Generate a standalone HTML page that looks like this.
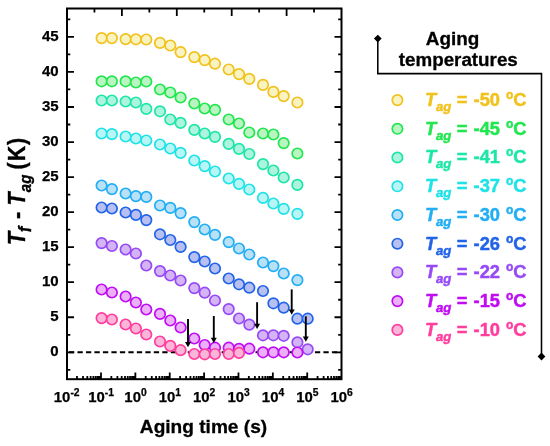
<!DOCTYPE html>
<html><head><meta charset="utf-8"><title>Aging</title><style>html,body{margin:0;padding:0;background:#fff}svg{display:block}</style></head><body>
<svg width="550" height="446" viewBox="0 0 550 446" font-family="'Liberation Sans', sans-serif" font-weight="bold">
<rect width="550" height="446" fill="#fff"/>
<line x1="69.0" y1="352.3" x2="341.5" y2="352.3" stroke="#000" stroke-width="1.9" stroke-dasharray="5.3 3.18"/>
<g stroke="#f1c21c" fill="#f9f3c2" stroke-width="1.7">
<circle cx="101.6" cy="38.1" r="5.25"/>
<circle cx="111.9" cy="38.1" r="5.25"/>
<circle cx="125.6" cy="39.1" r="5.25"/>
<circle cx="135.9" cy="39.3" r="5.25"/>
<circle cx="146.3" cy="39.5" r="5.25"/>
<circle cx="160.0" cy="42.9" r="5.25"/>
<circle cx="170.3" cy="45.5" r="5.25"/>
<circle cx="180.6" cy="52.1" r="5.25"/>
<circle cx="194.3" cy="57.1" r="5.25"/>
<circle cx="204.7" cy="60.1" r="5.25"/>
<circle cx="215.0" cy="63.7" r="5.25"/>
<circle cx="228.7" cy="69.5" r="5.25"/>
<circle cx="239.0" cy="74.1" r="5.25"/>
<circle cx="249.3" cy="78.9" r="5.25"/>
<circle cx="263.0" cy="84.9" r="5.25"/>
<circle cx="273.4" cy="91.9" r="5.25"/>
<circle cx="283.7" cy="96.1" r="5.25"/>
<circle cx="297.4" cy="102.5" r="5.25"/>
</g>
<g stroke="#22e650" fill="#b8f5c0" stroke-width="1.7">
<circle cx="101.6" cy="81.3" r="5.25"/>
<circle cx="111.9" cy="81.3" r="5.25"/>
<circle cx="125.6" cy="81.3" r="5.25"/>
<circle cx="135.9" cy="82.5" r="5.25"/>
<circle cx="146.3" cy="81.5" r="5.25"/>
<circle cx="160.0" cy="89.5" r="5.25"/>
<circle cx="170.3" cy="92.5" r="5.25"/>
<circle cx="180.6" cy="97.5" r="5.25"/>
<circle cx="194.3" cy="103.5" r="5.25"/>
<circle cx="204.7" cy="108.5" r="5.25"/>
<circle cx="215.0" cy="109.9" r="5.25"/>
<circle cx="228.7" cy="119.5" r="5.25"/>
<circle cx="239.0" cy="123.5" r="5.25"/>
<circle cx="249.3" cy="132.5" r="5.25"/>
<circle cx="263.0" cy="133.5" r="5.25"/>
<circle cx="273.4" cy="134.5" r="5.25"/>
<circle cx="283.7" cy="143.1" r="5.25"/>
<circle cx="297.4" cy="153.5" r="5.25"/>
</g>
<g stroke="#1ee6a8" fill="#acf4dd" stroke-width="1.7">
<circle cx="101.6" cy="100.5" r="5.25"/>
<circle cx="111.9" cy="100.5" r="5.25"/>
<circle cx="125.6" cy="101.5" r="5.25"/>
<circle cx="135.9" cy="102.5" r="5.25"/>
<circle cx="146.3" cy="108.9" r="5.25"/>
<circle cx="160.0" cy="111.3" r="5.25"/>
<circle cx="170.3" cy="119.5" r="5.25"/>
<circle cx="180.6" cy="122.9" r="5.25"/>
<circle cx="194.3" cy="129.9" r="5.25"/>
<circle cx="204.7" cy="133.5" r="5.25"/>
<circle cx="215.0" cy="136.9" r="5.25"/>
<circle cx="228.7" cy="143.9" r="5.25"/>
<circle cx="239.0" cy="148.9" r="5.25"/>
<circle cx="249.3" cy="154.0" r="5.25"/>
<circle cx="263.0" cy="164.1" r="5.25"/>
<circle cx="273.4" cy="170.5" r="5.25"/>
<circle cx="283.7" cy="177.5" r="5.25"/>
<circle cx="297.4" cy="184.9" r="5.25"/>
</g>
<g stroke="#1fe2e6" fill="#b8f6f6" stroke-width="1.7">
<circle cx="101.6" cy="133.5" r="5.25"/>
<circle cx="111.9" cy="134.1" r="5.25"/>
<circle cx="125.6" cy="136.5" r="5.25"/>
<circle cx="135.9" cy="138.5" r="5.25"/>
<circle cx="146.3" cy="140.5" r="5.25"/>
<circle cx="160.0" cy="144.5" r="5.25"/>
<circle cx="170.3" cy="148.5" r="5.25"/>
<circle cx="180.6" cy="152.9" r="5.25"/>
<circle cx="194.3" cy="160.5" r="5.25"/>
<circle cx="204.7" cy="166.1" r="5.25"/>
<circle cx="215.0" cy="171.5" r="5.25"/>
<circle cx="228.7" cy="178.5" r="5.25"/>
<circle cx="239.0" cy="183.9" r="5.25"/>
<circle cx="249.3" cy="189.5" r="5.25"/>
<circle cx="263.0" cy="197.9" r="5.25"/>
<circle cx="273.4" cy="203.5" r="5.25"/>
<circle cx="283.7" cy="208.9" r="5.25"/>
<circle cx="297.4" cy="213.9" r="5.25"/>
</g>
<g stroke="#22aef4" fill="#b8e1f7" stroke-width="1.7">
<circle cx="101.6" cy="185.5" r="5.25"/>
<circle cx="111.9" cy="189.1" r="5.25"/>
<circle cx="125.6" cy="193.5" r="5.25"/>
<circle cx="135.9" cy="196.1" r="5.25"/>
<circle cx="146.3" cy="196.9" r="5.25"/>
<circle cx="160.0" cy="205.5" r="5.25"/>
<circle cx="170.3" cy="207.9" r="5.25"/>
<circle cx="180.6" cy="213.1" r="5.25"/>
<circle cx="194.3" cy="222.1" r="5.25"/>
<circle cx="204.7" cy="229.5" r="5.25"/>
<circle cx="215.0" cy="234.9" r="5.25"/>
<circle cx="228.7" cy="242.1" r="5.25"/>
<circle cx="239.0" cy="248.5" r="5.25"/>
<circle cx="249.3" cy="254.5" r="5.25"/>
<circle cx="263.0" cy="262.5" r="5.25"/>
<circle cx="273.4" cy="266.1" r="5.25"/>
<circle cx="283.7" cy="273.5" r="5.25"/>
<circle cx="297.4" cy="280.1" r="5.25"/>
</g>
<g stroke="#2264e8" fill="#b8c0f2" stroke-width="1.7">
<circle cx="101.6" cy="207.5" r="5.25"/>
<circle cx="111.9" cy="208.5" r="5.25"/>
<circle cx="125.6" cy="212.5" r="5.25"/>
<circle cx="135.9" cy="214.9" r="5.25"/>
<circle cx="146.3" cy="220.1" r="5.25"/>
<circle cx="160.0" cy="234.3" r="5.25"/>
<circle cx="170.3" cy="240.0" r="5.25"/>
<circle cx="180.6" cy="246.9" r="5.25"/>
<circle cx="194.3" cy="257.1" r="5.25"/>
<circle cx="204.7" cy="261.5" r="5.25"/>
<circle cx="215.0" cy="268.5" r="5.25"/>
<circle cx="228.7" cy="278.5" r="5.25"/>
<circle cx="239.0" cy="284.3" r="5.25"/>
<circle cx="249.3" cy="287.7" r="5.25"/>
<circle cx="263.0" cy="291.0" r="5.25"/>
<circle cx="273.4" cy="303.3" r="5.25"/>
<circle cx="283.7" cy="307.7" r="5.25"/>
<circle cx="297.4" cy="318.7" r="5.25"/>
<circle cx="307.7" cy="318.7" r="5.25"/>
</g>
<g stroke="#964af6" fill="#d5b4f5" stroke-width="1.7">
<circle cx="101.6" cy="243.1" r="5.25"/>
<circle cx="111.9" cy="246.0" r="5.25"/>
<circle cx="125.6" cy="249.5" r="5.25"/>
<circle cx="135.9" cy="253.5" r="5.25"/>
<circle cx="146.3" cy="265.5" r="5.25"/>
<circle cx="160.0" cy="271.1" r="5.25"/>
<circle cx="170.3" cy="275.5" r="5.25"/>
<circle cx="180.6" cy="280.5" r="5.25"/>
<circle cx="194.3" cy="288.1" r="5.25"/>
<circle cx="204.7" cy="292.7" r="5.25"/>
<circle cx="215.0" cy="300.5" r="5.25"/>
<circle cx="228.7" cy="309.1" r="5.25"/>
<circle cx="239.0" cy="318.5" r="5.25"/>
<circle cx="249.3" cy="324.6" r="5.25"/>
<circle cx="263.0" cy="335.3" r="5.25"/>
<circle cx="273.4" cy="335.3" r="5.25"/>
<circle cx="283.7" cy="335.8" r="5.25"/>
<circle cx="297.4" cy="342.3" r="5.25"/>
<circle cx="307.7" cy="349.3" r="5.25"/>
</g>
<g stroke="#c00cf4" fill="#ebb0f7" stroke-width="1.7">
<circle cx="101.6" cy="289.5" r="5.25"/>
<circle cx="111.9" cy="292.5" r="5.25"/>
<circle cx="125.6" cy="296.5" r="5.25"/>
<circle cx="135.9" cy="302.5" r="5.25"/>
<circle cx="146.3" cy="309.5" r="5.25"/>
<circle cx="160.0" cy="313.9" r="5.25"/>
<circle cx="170.3" cy="320.5" r="5.25"/>
<circle cx="180.6" cy="327.5" r="5.25"/>
<circle cx="194.3" cy="338.5" r="5.25"/>
<circle cx="204.7" cy="345.0" r="5.25"/>
<circle cx="215.0" cy="347.7" r="5.25"/>
<circle cx="228.7" cy="347.7" r="5.25"/>
<circle cx="239.0" cy="348.8" r="5.25"/>
<circle cx="249.3" cy="348.7" r="5.25"/>
<circle cx="263.0" cy="352.3" r="5.25"/>
<circle cx="273.4" cy="352.3" r="5.25"/>
<circle cx="283.7" cy="352.3" r="5.25"/>
<circle cx="297.4" cy="352.5" r="5.25"/>
</g>
<g stroke="#ff3d9e" fill="#fbb5d8" stroke-width="1.7">
<circle cx="101.6" cy="318.1" r="5.25"/>
<circle cx="111.9" cy="319.5" r="5.25"/>
<circle cx="125.6" cy="324.5" r="5.25"/>
<circle cx="135.9" cy="328.5" r="5.25"/>
<circle cx="146.3" cy="334.5" r="5.25"/>
<circle cx="160.0" cy="341.5" r="5.25"/>
<circle cx="170.3" cy="345.9" r="5.25"/>
<circle cx="180.6" cy="350.2" r="5.25"/>
<circle cx="194.3" cy="354.0" r="5.25"/>
<circle cx="204.7" cy="354.3" r="5.25"/>
<circle cx="215.0" cy="354.0" r="5.25"/>
<circle cx="228.7" cy="354.0" r="5.25"/>
<circle cx="239.0" cy="352.9" r="5.25"/>
</g>
<line x1="188.0" y1="319" x2="188.0" y2="343.2" stroke="#000" stroke-width="1.9"/>
<path d="M185.0 341.9L191.0 341.9L188.0 347.2Z" fill="#000"/>
<line x1="213.8" y1="316" x2="213.8" y2="339" stroke="#000" stroke-width="1.9"/>
<path d="M210.8 337.7L216.8 337.7L213.8 343.0Z" fill="#000"/>
<line x1="257.1" y1="302.2" x2="257.1" y2="325.1" stroke="#000" stroke-width="1.9"/>
<path d="M254.1 323.8L260.1 323.8L257.1 329.1Z" fill="#000"/>
<line x1="291.7" y1="289.4" x2="291.7" y2="310.8" stroke="#000" stroke-width="1.9"/>
<path d="M288.7 309.5L294.7 309.5L291.7 314.8Z" fill="#000"/>
<line x1="305.8" y1="316.3" x2="305.8" y2="337.7" stroke="#000" stroke-width="1.9"/>
<path d="M302.8 336.4L308.8 336.4L305.8 341.7Z" fill="#000"/>
<rect x="67.0" y="8.5" width="274.5" height="370.7" fill="none" stroke="#000" stroke-width="2"/>
<path d="M67.0 352.30h7M341.5 352.30h-7M67.0 317.25h7M341.5 317.25h-7M67.0 282.21h7M341.5 282.21h-7M67.0 247.17h7M341.5 247.17h-7M67.0 212.12h7M341.5 212.12h-7M67.0 177.07h7M341.5 177.07h-7M67.0 142.03h7M341.5 142.03h-7M67.0 106.99h7M341.5 106.99h-7M67.0 71.94h7M341.5 71.94h-7M67.0 36.89h7M341.5 36.89h-7M67.0 369.82h3.3M341.5 369.82h-3.3M67.0 334.78h3.3M341.5 334.78h-3.3M67.0 299.73h3.3M341.5 299.73h-3.3M67.0 264.69h3.3M341.5 264.69h-3.3M67.0 229.64h3.3M341.5 229.64h-3.3M67.0 194.60h3.3M341.5 194.60h-3.3M67.0 159.55h3.3M341.5 159.55h-3.3M67.0 124.51h3.3M341.5 124.51h-3.3M67.0 89.46h3.3M341.5 89.46h-3.3M67.0 54.42h3.3M341.5 54.42h-3.3M67.0 19.37h3.3M341.5 19.37h-3.3M76.98 379.2v-3.2M83.03 379.2v-3.2M87.32 379.2v-3.2M90.65 379.2v-3.2M93.38 379.2v-3.2M95.68 379.2v-3.2M97.67 379.2v-3.2M99.43 379.2v-3.2M101.00 379.2v-6.6M111.35 379.2v-3.2M117.40 379.2v-3.2M121.69 379.2v-3.2M125.02 379.2v-3.2M127.75 379.2v-3.2M130.05 379.2v-3.2M132.04 379.2v-3.2M133.80 379.2v-3.2M135.37 379.2v-6.6M145.72 379.2v-3.2M151.77 379.2v-3.2M156.06 379.2v-3.2M159.39 379.2v-3.2M162.12 379.2v-3.2M164.42 379.2v-3.2M166.41 379.2v-3.2M168.17 379.2v-3.2M169.74 379.2v-6.6M180.09 379.2v-3.2M186.14 379.2v-3.2M190.43 379.2v-3.2M193.76 379.2v-3.2M196.49 379.2v-3.2M198.79 379.2v-3.2M200.78 379.2v-3.2M202.54 379.2v-3.2M204.11 379.2v-6.6M214.46 379.2v-3.2M220.51 379.2v-3.2M224.80 379.2v-3.2M228.13 379.2v-3.2M230.86 379.2v-3.2M233.16 379.2v-3.2M235.15 379.2v-3.2M236.91 379.2v-3.2M238.48 379.2v-6.6M248.83 379.2v-3.2M254.88 379.2v-3.2M259.17 379.2v-3.2M262.50 379.2v-3.2M265.23 379.2v-3.2M267.53 379.2v-3.2M269.52 379.2v-3.2M271.28 379.2v-3.2M272.85 379.2v-6.6M283.20 379.2v-3.2M289.25 379.2v-3.2M293.54 379.2v-3.2M296.87 379.2v-3.2M299.60 379.2v-3.2M301.90 379.2v-3.2M303.89 379.2v-3.2M305.65 379.2v-3.2M307.22 379.2v-6.6M317.57 379.2v-3.2M323.62 379.2v-3.2M327.91 379.2v-3.2M331.24 379.2v-3.2M333.97 379.2v-3.2M336.27 379.2v-3.2M338.26 379.2v-3.2M340.02 379.2v-3.2M94.45 8.5v4.1M121.90 8.5v7.4M149.35 8.5v4.1M176.80 8.5v7.4M204.25 8.5v4.1M231.70 8.5v7.4M259.15 8.5v4.1M286.60 8.5v7.4M314.05 8.5v4.1" stroke="#000" stroke-width="1.8" fill="none"/>
<text x="58.7" y="355.9" font-size="15" text-anchor="end" stroke="#000" stroke-width="0.25">0</text>
<text x="58.7" y="320.9" font-size="15" text-anchor="end" stroke="#000" stroke-width="0.25">5</text>
<text x="58.7" y="285.8" font-size="15" text-anchor="end" stroke="#000" stroke-width="0.25">10</text>
<text x="58.7" y="250.8" font-size="15" text-anchor="end" stroke="#000" stroke-width="0.25">15</text>
<text x="58.7" y="215.7" font-size="15" text-anchor="end" stroke="#000" stroke-width="0.25">20</text>
<text x="58.7" y="180.7" font-size="15" text-anchor="end" stroke="#000" stroke-width="0.25">25</text>
<text x="58.7" y="145.6" font-size="15" text-anchor="end" stroke="#000" stroke-width="0.25">30</text>
<text x="58.7" y="110.6" font-size="15" text-anchor="end" stroke="#000" stroke-width="0.25">35</text>
<text x="58.7" y="75.5" font-size="15" text-anchor="end" stroke="#000" stroke-width="0.25">40</text>
<text x="58.7" y="40.5" font-size="15" text-anchor="end" stroke="#000" stroke-width="0.25">45</text>
<text x="66.7" y="401.6" font-size="14.9" text-anchor="middle" stroke="#000" stroke-width="0.25">10<tspan font-size="10.3" dy="-5.6">-2</tspan></text>
<text x="101.1" y="401.6" font-size="14.9" text-anchor="middle" stroke="#000" stroke-width="0.25">10<tspan font-size="10.3" dy="-5.6">-1</tspan></text>
<text x="135.5" y="401.6" font-size="14.9" text-anchor="middle" stroke="#000" stroke-width="0.25">10<tspan font-size="10.3" dy="-5.6">0</tspan></text>
<text x="169.8" y="401.6" font-size="14.9" text-anchor="middle" stroke="#000" stroke-width="0.25">10<tspan font-size="10.3" dy="-5.6">1</tspan></text>
<text x="204.2" y="401.6" font-size="14.9" text-anchor="middle" stroke="#000" stroke-width="0.25">10<tspan font-size="10.3" dy="-5.6">2</tspan></text>
<text x="238.6" y="401.6" font-size="14.9" text-anchor="middle" stroke="#000" stroke-width="0.25">10<tspan font-size="10.3" dy="-5.6">3</tspan></text>
<text x="273.0" y="401.6" font-size="14.9" text-anchor="middle" stroke="#000" stroke-width="0.25">10<tspan font-size="10.3" dy="-5.6">4</tspan></text>
<text x="307.3" y="401.6" font-size="14.9" text-anchor="middle" stroke="#000" stroke-width="0.25">10<tspan font-size="10.3" dy="-5.6">5</tspan></text>
<text x="341.7" y="401.6" font-size="14.9" text-anchor="middle" stroke="#000" stroke-width="0.25">10<tspan font-size="10.3" dy="-5.6">6</tspan></text>
<text x="203.5" y="432.6" font-size="19.1" text-anchor="middle" stroke="#000" stroke-width="0.3">Aging time (s)</text>
<g transform="translate(24.8,248) rotate(-90) scale(1,1.1)" font-size="21.3" stroke="#000" stroke-width="0.35"><text x="3.0" y="0" font-style="italic">T</text><text x="16" y="5.5" font-style="italic" font-size="16">f</text><text x="29.1" y="0">-</text><text x="42.4" y="0" font-style="italic">T</text><text x="55.8" y="5.5" font-style="italic" font-size="15">ag</text><text x="78.6" y="0" letter-spacing="1.0">(K)</text></g>
<path d="M377.8 38.6V73.6H541.5V356.5" stroke="#000" stroke-width="1.55" fill="none"/>
<path d="M377.8 34.7l3.9 3.9l-3.9 3.9l-3.9 -3.9zM541.5 352.6l3.9 3.9l-3.9 3.9l-3.9 -3.9z" fill="#000"/>
<text x="452.6" y="44.8" font-size="18.9" text-anchor="middle" stroke="#000" stroke-width="0.3">Aging</text>
<text x="458.3" y="65.7" font-size="18.8" text-anchor="middle" stroke="#000" stroke-width="0.3">temperatures</text>
<circle cx="397.4" cy="100.1" r="5.2" stroke="#f1c21c" fill="#f9f3c2" stroke-width="1.7"/>
<text x="425.1" y="106.0" font-size="18.3" fill="#f1c21c" stroke="#f1c21c" stroke-width="0.45"><tspan font-style="italic">T</tspan><tspan font-style="italic" font-size="13.2" dy="4.9" dx="-0.3">ag</tspan><tspan dy="-4.9" dx="0.4"> = </tspan><tspan dx="1">-50 </tspan><tspan font-size="12" dy="-7" dx="1">o</tspan><tspan dy="7" dx="-0.3">C</tspan></text>
<circle cx="397.4" cy="128.8" r="5.2" stroke="#22e650" fill="#b8f5c0" stroke-width="1.7"/>
<text x="425.1" y="134.7" font-size="18.3" fill="#22e650" stroke="#22e650" stroke-width="0.45"><tspan font-style="italic">T</tspan><tspan font-style="italic" font-size="13.2" dy="4.9" dx="-0.3">ag</tspan><tspan dy="-4.9" dx="0.4"> = </tspan><tspan dx="1">-45 </tspan><tspan font-size="12" dy="-7" dx="1">o</tspan><tspan dy="7" dx="-0.3">C</tspan></text>
<circle cx="397.4" cy="157.5" r="5.2" stroke="#1ee6a8" fill="#acf4dd" stroke-width="1.7"/>
<text x="425.1" y="163.4" font-size="18.3" fill="#1ee6a8" stroke="#1ee6a8" stroke-width="0.45"><tspan font-style="italic">T</tspan><tspan font-style="italic" font-size="13.2" dy="4.9" dx="-0.3">ag</tspan><tspan dy="-4.9" dx="0.4"> = </tspan><tspan dx="1">-41 </tspan><tspan font-size="12" dy="-7" dx="1">o</tspan><tspan dy="7" dx="-0.3">C</tspan></text>
<circle cx="397.4" cy="186.3" r="5.2" stroke="#1fe2e6" fill="#b8f6f6" stroke-width="1.7"/>
<text x="425.1" y="192.2" font-size="18.3" fill="#1fe2e6" stroke="#1fe2e6" stroke-width="0.45"><tspan font-style="italic">T</tspan><tspan font-style="italic" font-size="13.2" dy="4.9" dx="-0.3">ag</tspan><tspan dy="-4.9" dx="0.4"> = </tspan><tspan dx="1">-37 </tspan><tspan font-size="12" dy="-7" dx="1">o</tspan><tspan dy="7" dx="-0.3">C</tspan></text>
<circle cx="397.4" cy="215.0" r="5.2" stroke="#22aef4" fill="#b8e1f7" stroke-width="1.7"/>
<text x="425.1" y="220.9" font-size="18.3" fill="#22aef4" stroke="#22aef4" stroke-width="0.45"><tspan font-style="italic">T</tspan><tspan font-style="italic" font-size="13.2" dy="4.9" dx="-0.3">ag</tspan><tspan dy="-4.9" dx="0.4"> = </tspan><tspan dx="1">-30 </tspan><tspan font-size="12" dy="-7" dx="1">o</tspan><tspan dy="7" dx="-0.3">C</tspan></text>
<circle cx="397.4" cy="243.7" r="5.2" stroke="#2264e8" fill="#b8c0f2" stroke-width="1.7"/>
<text x="425.1" y="249.6" font-size="18.3" fill="#2264e8" stroke="#2264e8" stroke-width="0.45"><tspan font-style="italic">T</tspan><tspan font-style="italic" font-size="13.2" dy="4.9" dx="-0.3">ag</tspan><tspan dy="-4.9" dx="0.4"> = </tspan><tspan dx="1">-26 </tspan><tspan font-size="12" dy="-7" dx="1">o</tspan><tspan dy="7" dx="-0.3">C</tspan></text>
<circle cx="397.4" cy="272.4" r="5.2" stroke="#964af6" fill="#d5b4f5" stroke-width="1.7"/>
<text x="425.1" y="278.3" font-size="18.3" fill="#964af6" stroke="#964af6" stroke-width="0.45"><tspan font-style="italic">T</tspan><tspan font-style="italic" font-size="13.2" dy="4.9" dx="-0.3">ag</tspan><tspan dy="-4.9" dx="0.4"> = </tspan><tspan dx="1">-22 </tspan><tspan font-size="12" dy="-7" dx="1">o</tspan><tspan dy="7" dx="-0.3">C</tspan></text>
<circle cx="397.4" cy="301.1" r="5.2" stroke="#c00cf4" fill="#ebb0f7" stroke-width="1.7"/>
<text x="425.1" y="307.0" font-size="18.3" fill="#c00cf4" stroke="#c00cf4" stroke-width="0.45"><tspan font-style="italic">T</tspan><tspan font-style="italic" font-size="13.2" dy="4.9" dx="-0.3">ag</tspan><tspan dy="-4.9" dx="0.4"> = </tspan><tspan dx="1">-15 </tspan><tspan font-size="12" dy="-7" dx="1">o</tspan><tspan dy="7" dx="-0.3">C</tspan></text>
<circle cx="397.4" cy="329.9" r="5.2" stroke="#ff3d9e" fill="#fbb5d8" stroke-width="1.7"/>
<text x="425.1" y="335.8" font-size="18.3" fill="#ff3d9e" stroke="#ff3d9e" stroke-width="0.45"><tspan font-style="italic">T</tspan><tspan font-style="italic" font-size="13.2" dy="4.9" dx="-0.3">ag</tspan><tspan dy="-4.9" dx="0.4"> = </tspan><tspan dx="1">-10 </tspan><tspan font-size="12" dy="-7" dx="1">o</tspan><tspan dy="7" dx="-0.3">C</tspan></text>
</svg>
</body></html>
